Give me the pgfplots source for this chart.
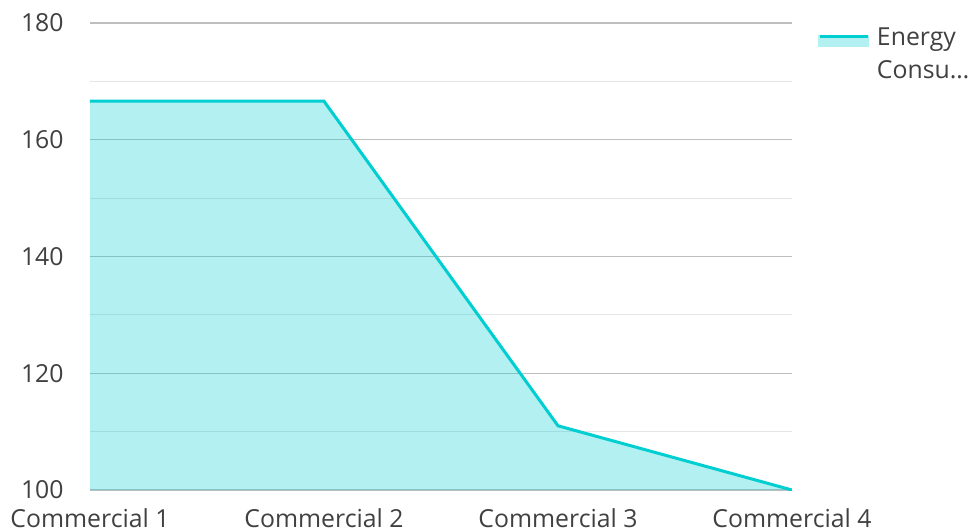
\documentclass[border=0pt]{standalone}
\usepackage{pgfplots}
\pgfplotsset{compat=1.18}
\usepackage{fontspec}
\setmainfont{Open Sans}
\definecolor{lc}{HTML}{00CED1}
\definecolor{tx}{HTML}{404040}
\begin{document}
\fontsize{12.4pt}{16.5pt}\selectfont
\begin{tikzpicture}
\useasboundingbox (-45pt,-20.5pt) rectangle (440.5pt,245pt);
\begin{axis}[
  at={(0pt,0pt)}, anchor=south west,
  scale only axis, width=351pt, height=233.5pt,
  xmin=0, xmax=3, ymin=100, ymax=180,
  axis line style={draw=none},
  major tick style={draw=none}, minor tick style={draw=none},
  xtick={0,1,2,3},
  xticklabels={Commercial 1,Commercial 2,Commercial 3,Commercial 4},
  ytick={100,120,...,180},
  minor ytick={110,130,150,170},
  ymajorgrids, yminorgrids,
  major grid style={color=black!25, line width=0.6pt},
  minor grid style={color=black!10, line width=0.6pt},
  /pgf/number format/assume math mode=true,
  tick label style={font=\fontsize{12.4pt}{14pt}\selectfont, text=tx},
  yticklabel style={inner sep=0pt, anchor=east, xshift=-13pt},
  xticklabel style={inner sep=0pt, anchor=north, yshift=-9pt},
  legend style={at={(rel axis cs:1,1)}, anchor=north west, xshift=13pt, yshift=-2.5pt,
    draw=none, fill=none, inner sep=0pt, outer sep=0pt,
    font=\fontsize{12.4pt}{16.5pt}\selectfont,
    nodes={inner sep=0pt, align=left, text=tx},
    /tikz/every odd column/.style={column sep=4pt}},
  legend cell align=left,
  legend image code/.code={
    \fill[lc!30] (0pt,5pt) rectangle (24pt,9.5pt);
    \draw[lc, line width=1.5pt] (0pt,9.5pt) -- (24pt,9.5pt);
  },
]
\addplot[draw=none, fill=lc, fill opacity=0.3, forget plot] coordinates {(0,166.6) (1,166.6) (2,111) (3,100)} \closedcycle;
\addplot[lc, line width=1.5pt] coordinates {(0,166.6) (1,166.6) (2,111) (3,100)};
\addlegendentry{Energy\\Consu…}
\end{axis}
\end{tikzpicture}
\end{document}
